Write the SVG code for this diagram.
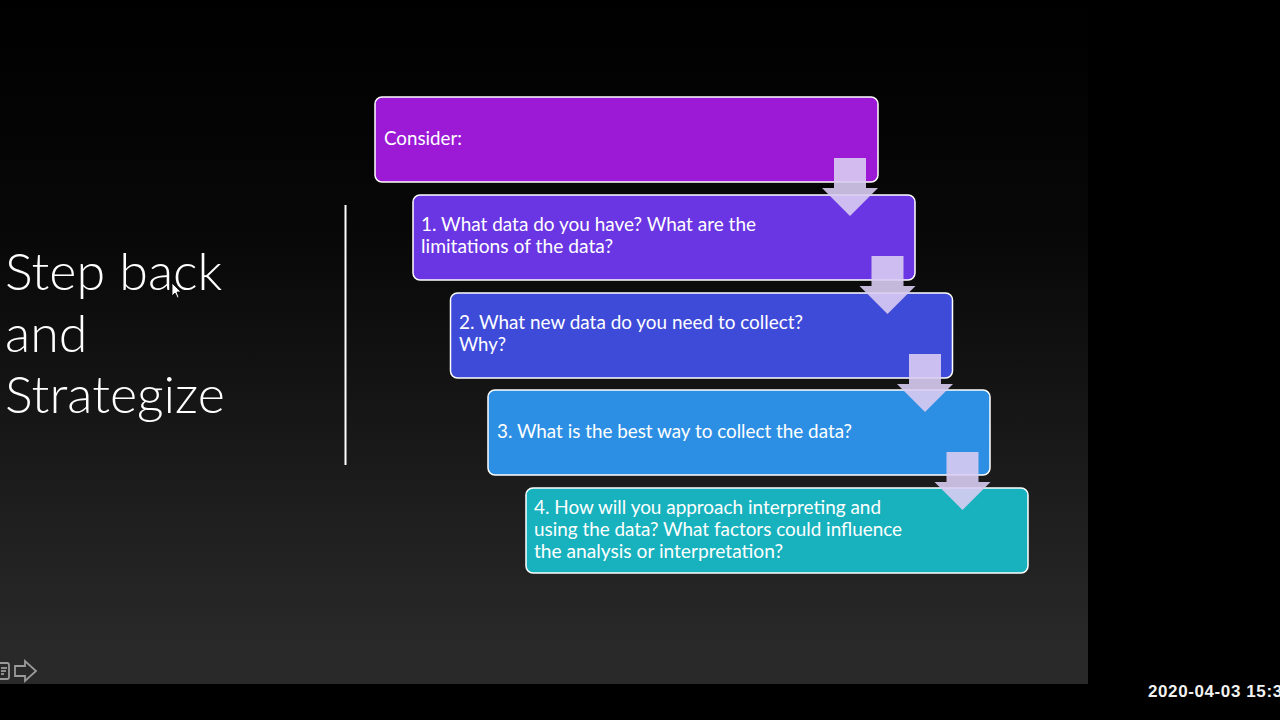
<svg xmlns="http://www.w3.org/2000/svg" width="1280" height="720" viewBox="0 0 1280 720">
<defs>
<linearGradient id="bg" x1="0" y1="0" x2="0" y2="1">
<stop offset="0" stop-color="#000000"/>
<stop offset="0.35" stop-color="#080808"/>
<stop offset="1" stop-color="#2c2c2c"/>
</linearGradient>
<style>
.box{stroke:#ffffff;stroke-width:1.5}
.t{font-family:Lato,"Open Sans","Liberation Sans",sans-serif;font-size:18.5px;fill:#ffffff}
.title{font-family:Lato,"Open Sans","Liberation Sans",sans-serif;font-size:52px;font-weight:300;fill:#ffffff}
.arr{fill:#d9ccf2;fill-opacity:0.9}
</style>
</defs>
<rect x="0" y="0" width="1280" height="720" fill="#000"/>
<rect x="0" y="0" width="1088" height="684" fill="url(#bg)"/>
<rect x="0" y="640" width="1088" height="44" fill="#292929"/>

<g id="title">
<text class="title" x="5" y="290">Step back</text>
<text class="title" x="5" y="352">and</text>
<text class="title" x="5" y="413">Strategize</text>
</g>
<line x1="345.5" y1="205" x2="345.5" y2="465" stroke="#ffffff" stroke-width="2"/>

<g id="node0"><rect class="box" x="375" y="97" width="503" height="85" rx="7" fill="#9c1ad6"/>
<text class="t" x="384" y="145" textLength="78" lengthAdjust="spacingAndGlyphs">Consider:</text></g>
<g id="node1"><rect class="box" x="413" y="195" width="502" height="85" rx="7" fill="#6a35e2"/>
<text class="t" x="421" y="231" textLength="335" lengthAdjust="spacingAndGlyphs">1. What data do you have? What are the</text>
<text class="t" x="421" y="253" textLength="192" lengthAdjust="spacingAndGlyphs">limitations of the data?</text></g>
<g id="node2"><rect class="box" x="450.5" y="293" width="502" height="85" rx="7" fill="#3e4bd9"/>
<text class="t" x="459" y="329" textLength="344" lengthAdjust="spacingAndGlyphs">2. What new data do you need to collect?</text>
<text class="t" x="459" y="351" textLength="47" lengthAdjust="spacingAndGlyphs">Why?</text></g>
<g id="node3"><rect class="box" x="488" y="390" width="502" height="85" rx="7" fill="#2c8fe4"/>
<text class="t" x="497" y="438" textLength="355" lengthAdjust="spacingAndGlyphs">3. What is the best way to collect the data?</text></g>
<g id="node4"><rect class="box" x="526" y="488" width="502" height="85" rx="7" fill="#17b2be"/>
<text class="t" x="534" y="514" textLength="347" lengthAdjust="spacingAndGlyphs">4. How will you approach interpreting and</text>
<text class="t" x="534" y="536" textLength="368" lengthAdjust="spacingAndGlyphs">using the data? What factors could influence</text>
<text class="t" x="534" y="558" textLength="249" lengthAdjust="spacingAndGlyphs">the analysis or interpretation?</text></g>

<g id="connectors">
<polygon class="arr" points="834,158 866,158 866,188 878,188 850,216 822,188 834,188"/>
<polygon class="arr" points="871.5,256 903.5,256 903.5,286 915.5,286 887.5,314 859.5,286 871.5,286"/>
<polygon class="arr" points="909,354 941,354 941,384 953,384 925,412 897,384 909,384"/>
<polygon class="arr" points="946.5,452 978.5,452 978.5,482 990.5,482 962.5,510 934.5,482 946.5,482"/>
</g>

<g id="cursor"><polygon points="172,283 172,296 175,293 177.5,298 179,297.5 177,292 181,292" fill="#ffffff" stroke="#000" stroke-width="0.8"/></g>

<g id="nav" fill="none" stroke="#9a9a9a" stroke-width="1.8">
<rect x="-4" y="663" width="13" height="16" rx="2"/>
<line x1="1" y1="668" x2="7" y2="668"/><line x1="1" y1="671" x2="6" y2="671"/><line x1="1" y1="674" x2="4" y2="674"/>
<polygon points="15,666 25,666 25,661 36,671 25,681 25,676 15,676"/>
</g>

<text x="1148" y="697" font-family="'Liberation Sans',Arial,sans-serif" font-size="17" font-weight="bold" letter-spacing="0.6" fill="#f2f2f2">2020-04-03 15:3</text>
</svg>
